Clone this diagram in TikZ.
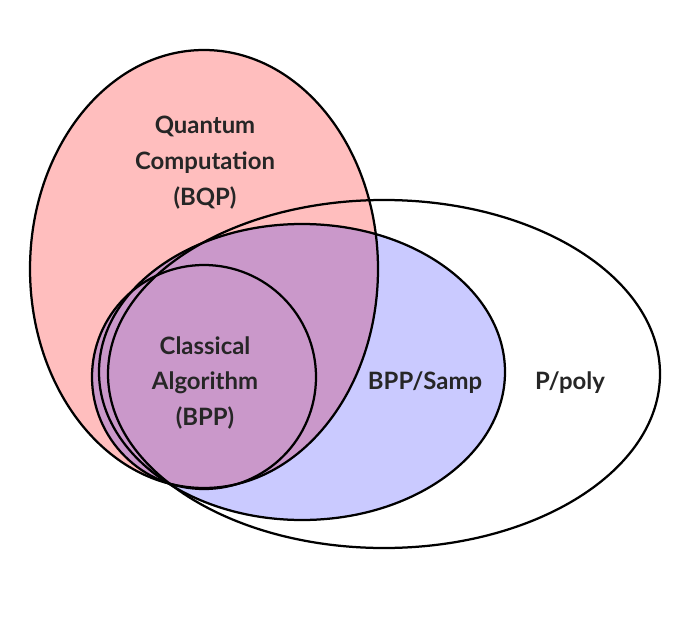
\documentclass[tikz,border=0pt]{standalone}
\usepackage{fontspec}
\setmainfont{Lato}
\definecolor{bqp_red}{RGB}{255,190,190}
\definecolor{samp_blue}{RGB}{202,202,255}
\definecolor{mix_purple}{RGB}{202,152,202}
\tikzset{
  outline/.style={line width=1.6pt, black},
  label/.style={font=\bfseries\fontsize{17}{25.5}\selectfont, align=center, text=black!85},
}
\begin{document}
\begin{tikzpicture}[x=0.025cm, y=-0.025cm]
    \useasboundingbox (0,0) rectangle (688,616);

    % P/poly
    \fill[white] (384,374) ellipse [x radius=276, y radius=174];
    % BPP/Samp
    \fill[samp_blue] (302,372) ellipse [x radius=203, y radius=148];
    % BQP
    \fill[bqp_red] (204,269) ellipse [x radius=174, y radius=219];
    \begin{scope}
        \clip (204,269) ellipse [x radius=174, y radius=219];
        \fill[mix_purple] (302,372) ellipse [x radius=203, y radius=148];
    \end{scope}
    % BPP
    \fill[mix_purple] (204,377) circle [radius=112];

    \draw[outline] (384,374) ellipse [x radius=276, y radius=174];
    \draw[outline] (302,372) ellipse [x radius=203, y radius=148];
    \draw[outline] (204,269) ellipse [x radius=174, y radius=219];
    \draw[outline] (204,377) circle [radius=112];

    \node[label] (bqp) at (205,163) {Quantum\\Computation\\(BQP)};
    \node[label] (bpp) at (205,383) {Classical\\Algorithm\\(BPP)};
    \node[label] (samp) at (425,383) {BPP/Samp};
    \node[label] (ppoly) at (570,383) {P/poly};

\end{tikzpicture}
\end{document}
